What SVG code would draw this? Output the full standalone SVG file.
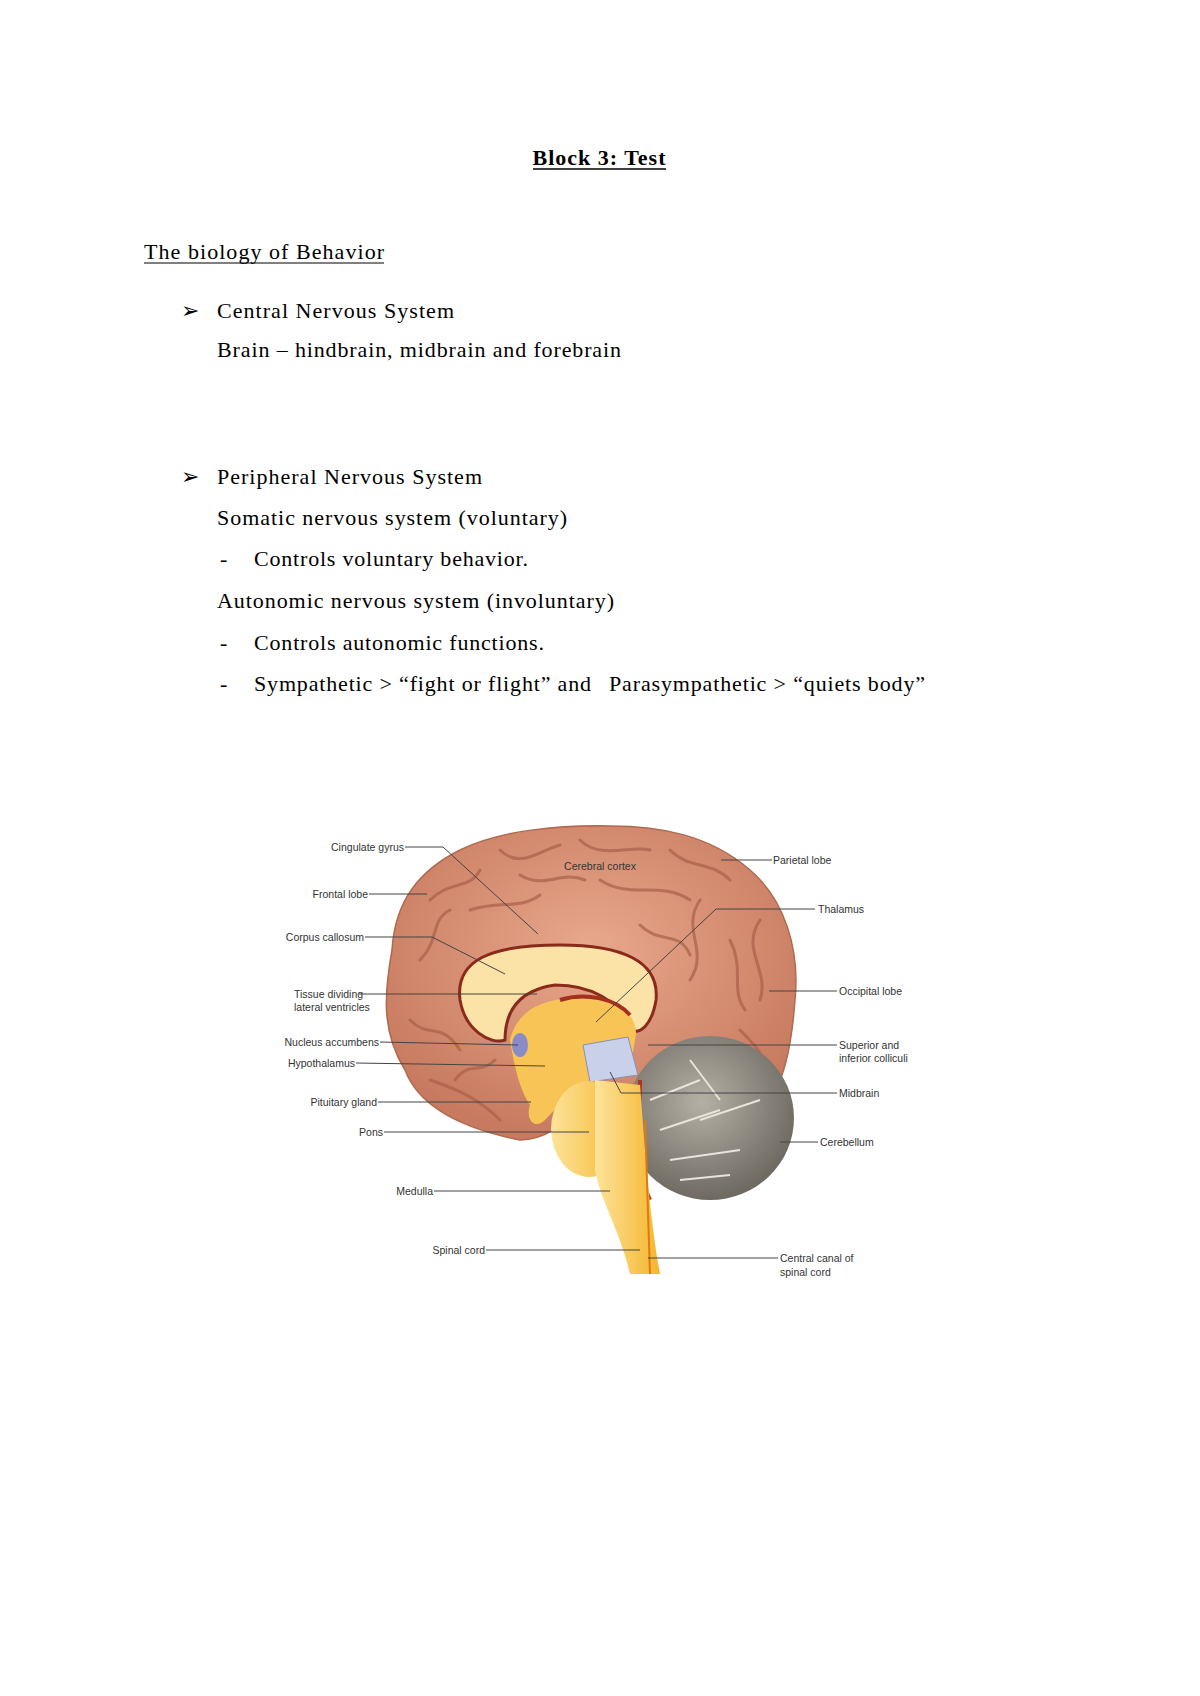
<svg xmlns="http://www.w3.org/2000/svg" width="1200" height="1696" viewBox="0 0 1200 1696">
<style>
.t{font-family:"Liberation Serif",serif;font-size:22px;fill:#000}
.l{font-family:"Liberation Sans",Arial,sans-serif;font-size:10.5px;fill:#333}
.ln{stroke:#444;stroke-width:1;fill:none}
.g{fill:none;stroke:#a8604a;stroke-width:3;stroke-linecap:round;opacity:.7}
</style>
<defs>
<radialGradient id="cx" cx="50%" cy="40%" r="60%"><stop offset="0" stop-color="#e9a88c"/><stop offset="1" stop-color="#c77a5f"/></radialGradient>
<radialGradient id="cb" cx="45%" cy="40%" r="60%"><stop offset="0" stop-color="#b5b0a5"/><stop offset="1" stop-color="#6e6a62"/></radialGradient>
<linearGradient id="ys" x1="0" x2="1"><stop offset="0" stop-color="#fde39a"/><stop offset="1" stop-color="#f5b52c"/></linearGradient>
</defs>
<rect width="1200" height="1696" fill="#fff"/>
<g id="text">
<text class="t" x="599" y="165" text-anchor="middle" font-weight="bold" textLength="133">Block 3: Test</text>
<line x1="533" y1="169" x2="666" y2="169" stroke="#000" stroke-width="1.3"/>
<text class="t" x="144" y="259" textLength="240">The biology of Behavior</text>
<line x1="144" y1="263" x2="384" y2="263" stroke="#000" stroke-width="1"/>
<text class="t" x="181" y="318" font-family="DejaVu Sans" font-size="18">➢</text>
<text class="t" x="217" y="318" textLength="237">Central Nervous System</text>
<text class="t" x="217" y="357" textLength="404">Brain – hindbrain, midbrain and forebrain</text>
<text class="t" x="181" y="484" font-family="DejaVu Sans" font-size="18">➢</text>
<text class="t" x="217" y="484" textLength="265">Peripheral Nervous System</text>
<text class="t" x="217" y="525" textLength="350">Somatic nervous system (voluntary)</text>
<text class="t" x="220" y="566">-</text>
<text class="t" x="254" y="566" textLength="274">Controls voluntary behavior.</text>
<text class="t" x="217" y="608" textLength="397">Autonomic nervous system (involuntary)</text>
<text class="t" x="220" y="650">-</text>
<text class="t" x="254" y="650" textLength="290">Controls autonomic functions.</text>
<text class="t" x="220" y="691">-</text>
<text class="t" x="254" y="691" textLength="337">Sympathetic &gt; “fight or flight”  and</text>
<text class="t" x="609" y="691" textLength="316">Parasympathetic &gt; “quiets body”</text>
</g>
<g id="brain">
<path d="M520 1140 C470 1130 420 1110 405 1070 C380 1030 385 990 392 950 C395 900 420 870 460 850 C500 830 560 825 610 826 C660 826 710 835 750 870 C785 900 800 950 795 1000 C792 1040 785 1090 760 1110 L660 1080 L600 1090 C575 1110 555 1140 520 1140Z" fill="url(#cx)" stroke="#b06a50" stroke-width="1.5"/>
<path class="g" d="M430 900 C450 880 470 890 480 870 M500 850 C520 870 540 850 560 845 M580 840 C600 860 630 845 650 850 M670 850 C690 870 710 860 730 880 M420 960 C440 940 430 920 450 910 M760 920 C740 950 770 970 760 1000 M410 1020 C430 1040 440 1020 460 1050 M700 900 C680 930 710 950 690 980 M470 910 C500 900 520 910 540 895 M600 880 C630 900 660 880 690 900 M430 1080 C460 1090 480 1100 500 1120 M740 1030 C760 1050 770 1060 760 1080 M520 875 C545 890 560 870 585 880 M640 925 C660 945 680 930 690 955 M730 940 C745 970 730 990 745 1010 M455 1080 C470 1060 480 1075 495 1060"/>
<path d="M460 1000 C455 960 490 945 560 945 C620 945 660 960 656 1000 C652 1025 640 1035 630 1030 C620 1000 590 985 555 985 C520 990 505 1010 505 1040 C490 1045 465 1030 460 1000Z" fill="#fbe3a8" stroke="#8a2a1a" stroke-width="3"/>
<path d="M510 1040 C520 1000 560 995 600 1000 C625 1005 640 1020 635 1040 L630 1070 L590 1080 C570 1090 555 1110 545 1120 C535 1130 525 1120 530 1105 C520 1090 515 1070 510 1040Z" fill="#f8c455"/>
<path d="M560 1000 C585 992 615 998 630 1015" stroke="#a53020" stroke-width="4" fill="none"/>
<ellipse cx="520" cy="1045" rx="8" ry="12" fill="#8a8cc8"/>
<path d="M583 1045 L628 1037 L638 1075 L590 1082Z" fill="#c8d0ea" stroke="#8890b8" stroke-width="1"/>
<ellipse cx="710" cy="1118" rx="84" ry="82" fill="url(#cb)"/>
<path d="M650 1100 L700 1080 M660 1130 L720 1110 M670 1160 L740 1150 M690 1060 L720 1100 M700 1120 L760 1100 M680 1180 L730 1175" stroke="#e8e4dc" stroke-width="2" fill="none"/>
<path d="M640 1080 C640 1120 630 1160 650 1200" stroke="#b3321f" stroke-width="4" fill="none"/>
<ellipse cx="589" cy="1129" rx="38" ry="48" fill="url(#ys)"/>
<path d="M595 1080 L640 1085 C645 1150 650 1220 660 1274 L630 1274 C620 1230 600 1200 595 1170Z" fill="url(#ys)"/>
<path d="M645 1120 L650 1274" stroke="#e07a10" stroke-width="2" fill="none"/>
</g>
<g id="connectors" class="ln">
<polyline points="405,847 443,847 538,934"/>
<line x1="369" y1="894" x2="427" y2="894"/>
<polyline points="365,937 432,937 505,974"/>
<line x1="359" y1="994" x2="537" y2="994"/>
<line x1="380" y1="1042" x2="518" y2="1045"/>
<line x1="356" y1="1063" x2="545" y2="1066"/>
<line x1="378" y1="1102" x2="531" y2="1102"/>
<line x1="384" y1="1132" x2="589" y2="1132"/>
<line x1="434" y1="1191" x2="610" y2="1191"/>
<line x1="486" y1="1250" x2="640" y2="1250"/>
<line x1="721" y1="860" x2="772" y2="860"/>
<polyline points="815,909 716,909 596,1022"/>
<line x1="769" y1="991" x2="837" y2="991"/>
<line x1="648" y1="1045" x2="837" y2="1045"/>
<polyline points="610,1072 621,1093 837,1093"/>
<line x1="780" y1="1142" x2="818" y2="1142"/>
<line x1="648" y1="1258" x2="778" y2="1258"/>
</g>
<g id="labels">
<text class="l" x="404" y="851" text-anchor="end">Cingulate gyrus</text>
<text class="l" x="600" y="870" text-anchor="middle">Cerebral cortex</text>
<text class="l" x="368" y="898" text-anchor="end">Frontal lobe</text>
<text class="l" x="364" y="941" text-anchor="end">Corpus callosum</text>
<text class="l" x="294" y="998">Tissue dividing</text>
<text class="l" x="294" y="1011">lateral ventricles</text>
<text class="l" x="379" y="1046" text-anchor="end">Nucleus accumbens</text>
<text class="l" x="355" y="1067" text-anchor="end">Hypothalamus</text>
<text class="l" x="377" y="1106" text-anchor="end">Pituitary gland</text>
<text class="l" x="383" y="1136" text-anchor="end">Pons</text>
<text class="l" x="433" y="1195" text-anchor="end">Medulla</text>
<text class="l" x="485" y="1254" text-anchor="end">Spinal cord</text>
<text class="l" x="773" y="864">Parietal lobe</text>
<text class="l" x="818" y="913">Thalamus</text>
<text class="l" x="839" y="995">Occipital lobe</text>
<text class="l" x="839" y="1049">Superior and</text>
<text class="l" x="839" y="1062">inferior colliculi</text>
<text class="l" x="839" y="1097">Midbrain</text>
<text class="l" x="820" y="1146">Cerebellum</text>
<text class="l" x="780" y="1262">Central canal of</text>
<text class="l" x="780" y="1276">spinal cord</text>
</g>
</svg>
